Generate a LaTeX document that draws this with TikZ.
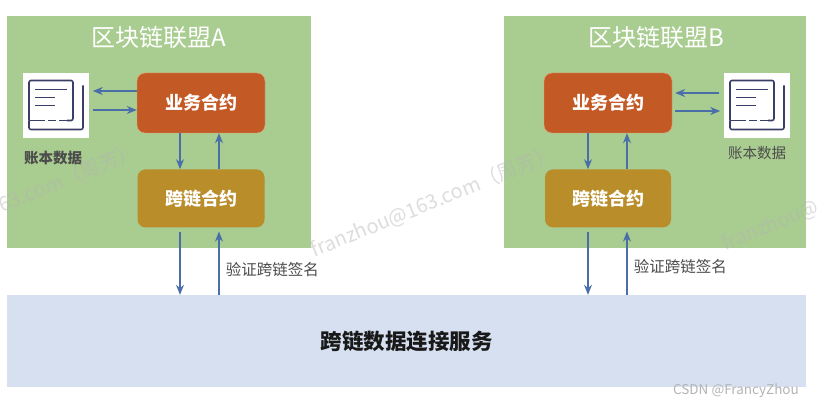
\documentclass[tikz,border=0pt]{standalone}
\usepackage{fontspec}
\newfontfamily\cjk{Noto Sans CJK SC}
\usepackage{tikz}
\usetikzlibrary{positioning,arrows.meta}
\definecolor{panelgreen}{HTML}{A9CC90}
\definecolor{bizred}{HTML}{C35A26}
\definecolor{crossgold}{HTML}{B98D2A}
\definecolor{servblue}{HTML}{D6E0F0}
\definecolor{arrblue}{HTML}{4A6EA8}
\definecolor{iconnavy}{HTML}{3A3F68}
\definecolor{markgray}{HTML}{B4B4B4}

\begin{document}
\begin{tikzpicture}[
  x=1pt, y=-1pt,
  font=\cjk,
  panel/.style={fill=panelgreen, draw=none, minimum width=#1, minimum height=232pt, inner sep=0pt},
  ctitle/.style={text=white, font=\cjk\fontsize{24}{26}\selectfont},
  contract/.style={rounded corners=8pt, minimum height=#1, inner sep=0pt, text=white, font=\cjk\bfseries\fontsize{18}{20}\selectfont},
  ledger/.style={fill=white, minimum width=66pt, minimum height=65pt, inner sep=0pt},
  lab/.style={font=\cjk\fontsize{15.5}{17}\selectfont, text=black!70},
  arr/.style={-{Stealth[length=10pt,width=8pt]}, arrblue, line width=1.3pt},
  wmark/.style={text=markgray, text opacity=0.45, rotate=22, font=\cjk\fontsize{20}{22}\selectfont},
  ledgericon/.pic={
    \draw[iconnavy, line width=1.6pt, rounded corners=2pt] (-27,15) -- (-27,-25) -- (17,-25) -- (17,15) -- (11,15);
    \draw[iconnavy, line width=1.6pt] (11,15) -- (3,15) (0,15) -- (-8,15) (-11,15) -- (-27,15);
    \draw[iconnavy, line width=1.6pt, rounded corners=2pt] (-27,15) -- (-27,24) -- (27,24) -- (27,-20);
    \draw[iconnavy, line width=1.6pt] (-21,-16) -- (11,-16) (-21,-8) -- (-1,-8) (-21,0) -- (-1,0);
  }
]
\useasboundingbox (0,0) rectangle (817,406);
\fill[white] (0,0) rectangle (817,406);

% alliance panels
\node[panel=304pt] (panelA) at (159,132) {};
\node[panel=302pt] (panelB) at (655,132) {};
\node[ctitle] (titleA) at (159,37) {区块链联盟A};
\node[ctitle] (titleB) at (656,37) {区块链联盟B};

\node[contract=60pt, minimum width=128pt, fill=bizred, draw=bizred!70!orange!60!white] (bizA) at (201,103) {业务合约};
\node[contract=58pt, minimum width=127pt, fill=crossgold, below=36pt of bizA.south, anchor=north] (crossA) {跨链合约};
\node[contract=60pt, minimum width=128pt, fill=bizred, draw=bizred!70!orange!60!white] (bizB) at (608,103) {业务合约};
\node[contract=58pt, minimum width=126pt, fill=crossgold, below=36pt of bizB.south, anchor=north] (crossB) {跨链合约};

\node[ledger] (ledgerA) at (56,105.5) {};
\node[ledger] (ledgerB) at (757,105.5) {};
\pic at (ledgerA) {ledgericon};
\pic at (ledgerB) {ledgericon};
\node[lab, font=\cjk\bfseries\fontsize{14.5}{17}\selectfont] (dataA) at (53,158) {账本数据};
\node[lab, font=\cjk\fontsize{14.5}{17}\selectfont] (dataB) at (757,153) {账本数据};

\node[fill=servblue, minimum width=799pt, minimum height=92pt, inner sep=0pt, font=\cjk\bfseries\fontsize{21.5}{24}\selectfont, text=black!90] (serv) at (406.5,341) {跨链数据连接服务};

% watermarks
\node[wmark] (markL) at (68,178) {63.com（周芳）};
\node[wmark] (markM) at (433,202) {franzhou@163.com（周芳）};
\node[wmark, anchor=west] (markR) at (720,246) {franzhou@};
\node[text=markgray, font=\cjk\fontsize{13.5}{15}\selectfont] (markC) at (736,391) {CSDN @FrancyZhou};

% connectors
\draw[arr] ([yshift=12pt]bizA.west) -- ++(-44,0) coordinate (endA1);
\draw[arr] ([yshift=-7pt,xshift=-44pt]bizA.west) coordinate (startA2) -- ([yshift=-7pt]bizA.west);
\draw[arr] ([xshift=-21pt]bizA.south) -- ([xshift=-21pt]crossA.north);
\draw[arr] ([xshift=18pt]crossA.north) -- ([xshift=18pt]bizA.south);
\draw[arr] ([xshift=-21pt,yshift=-4pt]crossA.south) -- ([xshift=-21pt]crossA.south |- serv.north);
\draw[arr] ([xshift=18pt]crossA.south |- serv.north) -- node[lab, right=3pt, pos=0.4] (signA) {验证跨链签名} ([xshift=18pt,yshift=-4pt]crossA.south);

\draw[arr] ([xshift=47pt,yshift=10pt]bizB.east) coordinate (startB1) -- ([xshift=3pt,yshift=10pt]bizB.east);
\draw[arr] ([xshift=3pt,yshift=-8pt]bizB.east) -- ++(45,0) coordinate (endB2);
\draw[arr] ([xshift=-20pt]bizB.south) -- ([xshift=-20pt]crossB.north);
\draw[arr] ([xshift=19pt]crossB.north) -- ([xshift=19pt]bizB.south);
\draw[arr] ([xshift=-20pt,yshift=-4pt]crossB.south) -- ([xshift=-20pt]crossB.south |- serv.north);
\draw[arr] ([xshift=19pt]crossB.south |- serv.north) -- node[lab, right=3pt, pos=0.45] (signB) {验证跨链签名} ([xshift=19pt,yshift=-4pt]crossB.south);
\end{tikzpicture}
\end{document}
